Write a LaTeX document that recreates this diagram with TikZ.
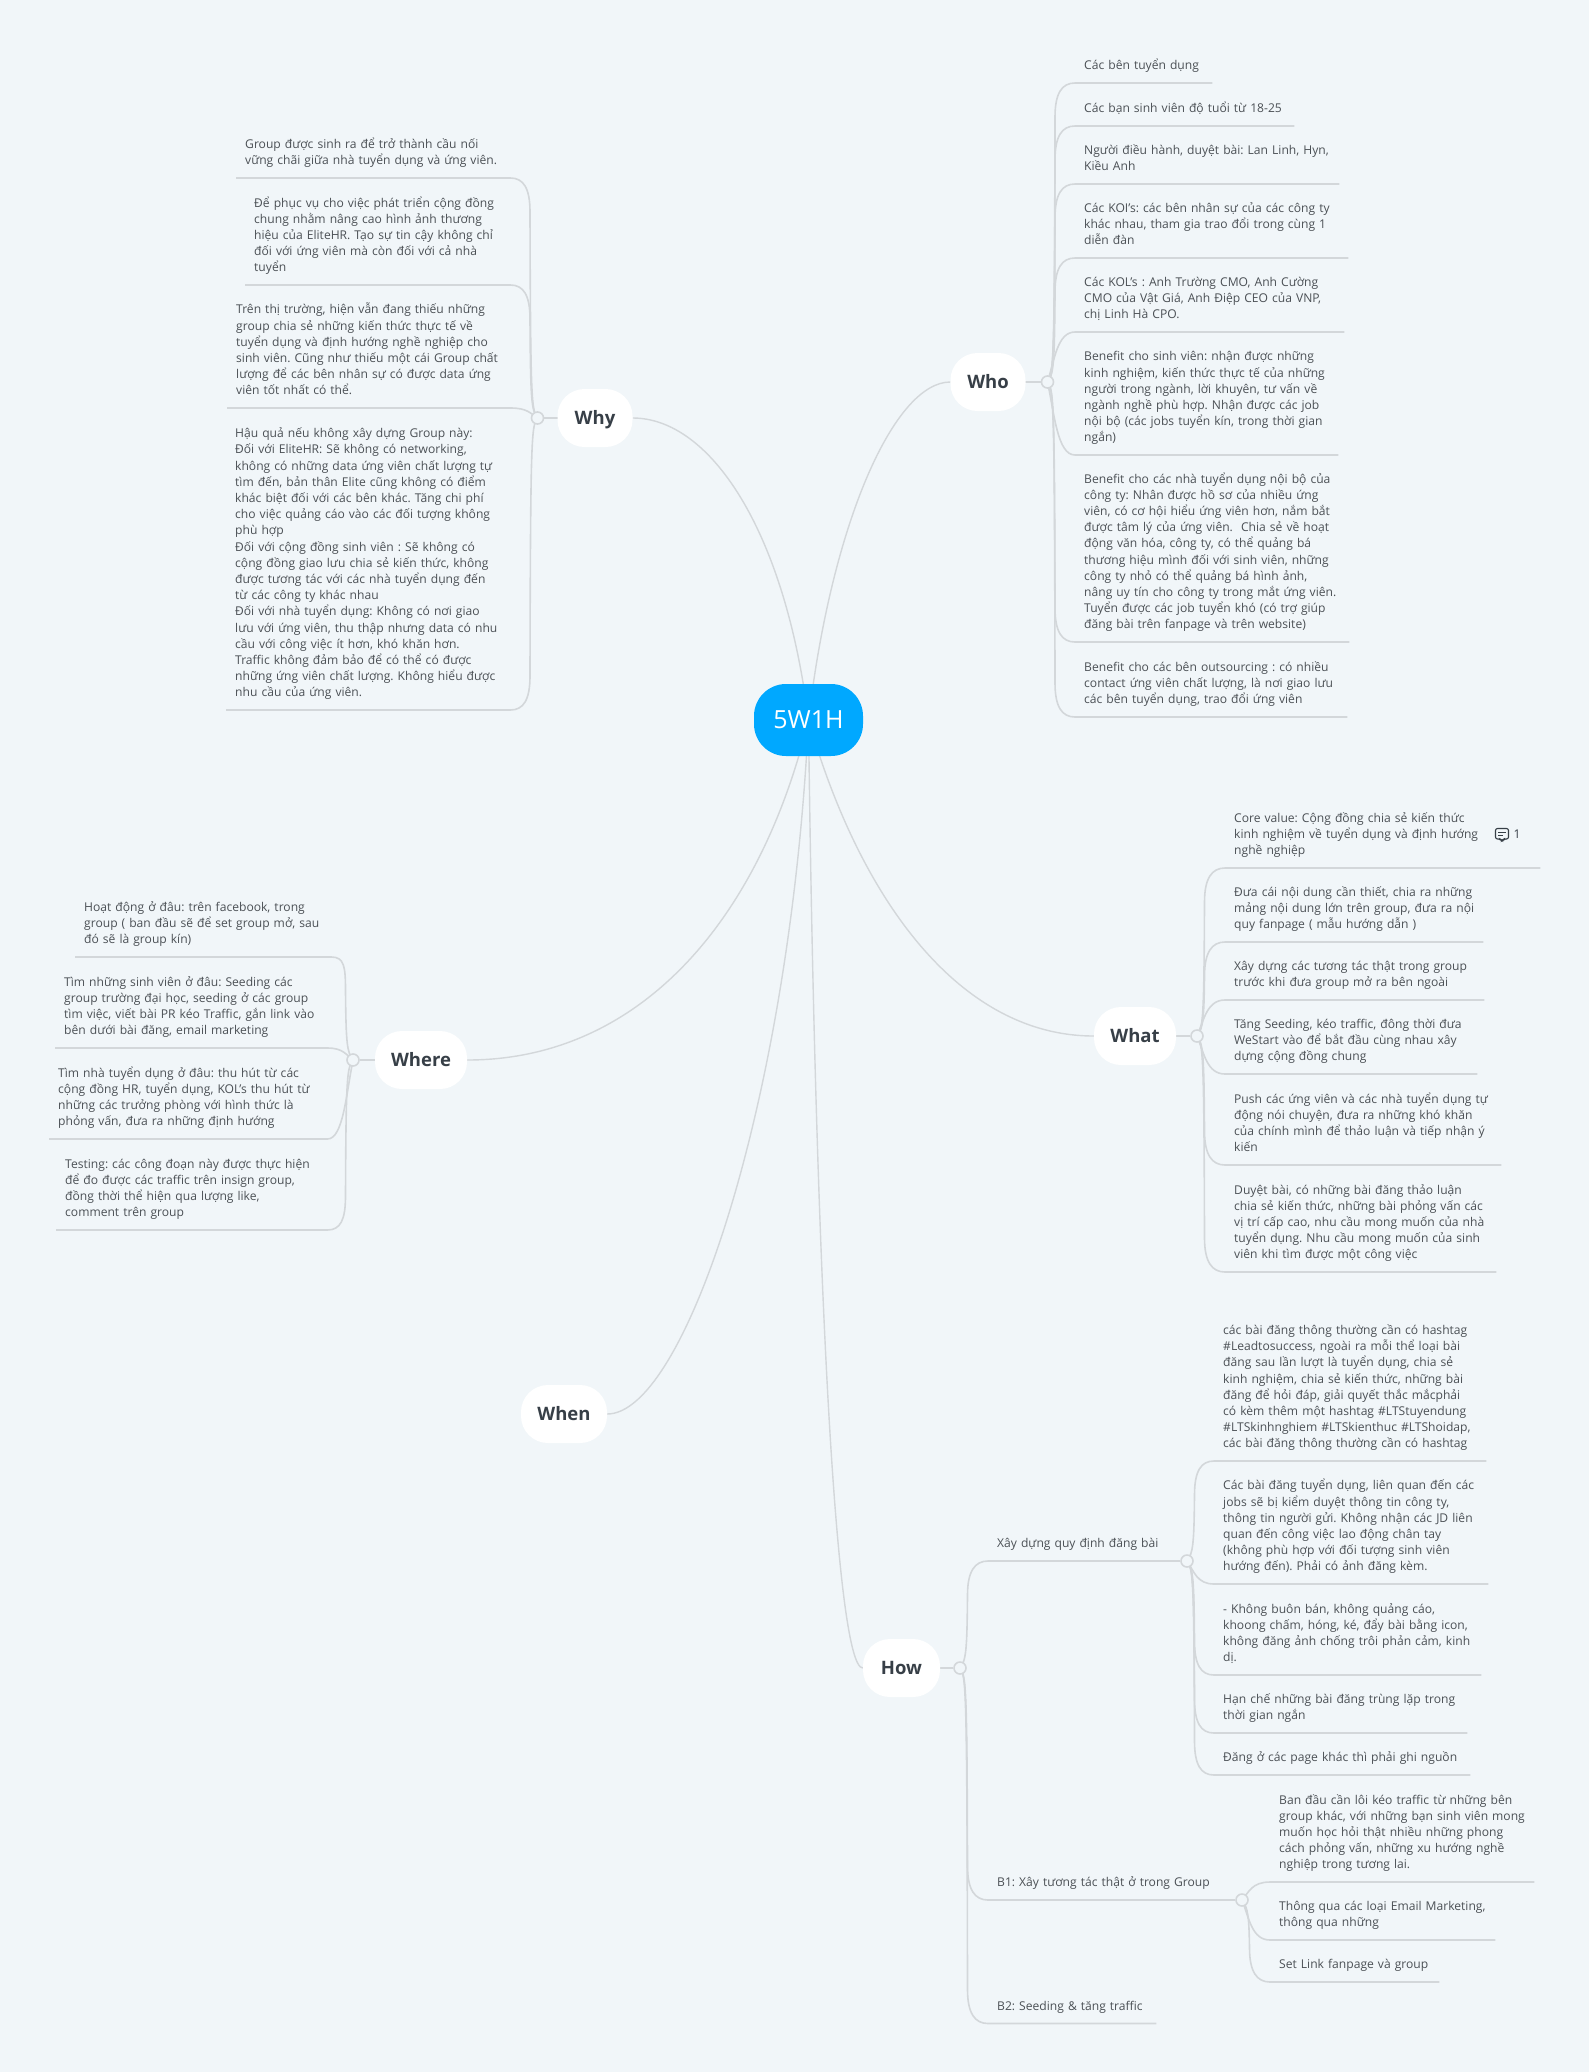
\documentclass[tikz,border=0pt]{standalone}
\usepackage{fontspec}
\setmainfont{Open Sans}
\usetikzlibrary{calc,backgrounds}
\definecolor{pagebg}{HTML}{F1F6F9}
\definecolor{linegrey}{HTML}{D3D7DA}
\definecolor{leaftext}{HTML}{4B5055}
\definecolor{topictext}{HTML}{373F47}
\definecolor{rootblue}{HTML}{00A8FF}
\tikzset{
  branch/.style={draw=linegrey,line width=1.6pt},
  mainbranch/.style={draw=linegrey,line width=1.4pt},
  leaf/.style={anchor=south west,inner xsep=9pt,inner ysep=8pt,text width=#1pt-18pt,execute at end node=\strut,
    align=left,text=leaftext,font=\fontsize{12.1}{16.2}\selectfont\frenchspacing},
  topic/.style={fill=white,rounded corners=27pt,minimum height=58pt,minimum width=#1pt,inner sep=0pt,
    text height=13pt,text depth=0pt,text=topictext,font=\fontsize{18.5}{22}\selectfont\bfseries},
  hub/.style={circle,draw=linegrey,line width=1.6pt,fill=pagebg,minimum size=12pt,inner sep=0pt},
}
% tall branch: runs along the hub, then turns into the leaf
\newcommand{\fartwig}[3]{%
  \ifnum#3>0 \def\nearside{south west}\def\farside{south east}\else\def\nearside{south east}\def\farside{south west}\fi
  \draw[branch] let \p1=(#1.center), \p2=(#2.\nearside), \n1={ifthenelse(\y2>\y1,1,-1)} in
    (\p1) .. controls (\x1+#3*6pt,\y1+\n1*8pt) and (\x1+#3*7pt,\y1+\n1*16pt) .. (\x1+#3*7.5pt,\y2-\n1*34pt)
    .. controls (\x1+#3*7.5pt,\y2-\n1*10pt) and (\x2-#3*13pt,\y2) .. (\p2) -- (#2.\farside);
}
% short branch: a plain S curve
\newcommand{\neartwig}[3]{%
  \ifnum#3>0 \def\nearside{south west}\def\farside{south east}\else\def\nearside{south east}\def\farside{south west}\fi
  \draw[branch] let \p1=(#1.center), \p2=(#2.\nearside) in
    (\p1) .. controls (\x1+#3*7pt,{\y1+0.45*(\y2-\y1)}) and (\x1+#3*10pt,\y2) .. (\p2) -- (#2.\farside);
}
\begin{document}
\begin{tikzpicture}[x=1pt,y=-1pt]
\useasboundingbox (0,0) rectangle (1589,2072);

\node[fill=rootblue,rounded corners=32pt,minimum width=109pt,minimum height=72pt,inner sep=0pt,text=white,
  font=\fontsize{25}{30}\selectfont] (root) at (808.5,720) {5W1H};

% topics
\node[topic=75] (who) at (988,382) {Who};
\node[topic=75] (why) at (595,418) {Why};
\node[topic=92] (where) at (421,1060) {Where};
\node[topic=82] (what) at (1135,1036) {What};
\node[topic=86] (when) at (564,1414) {When};
\node[topic=77] (how) at (901.5,1668) {How};

\node[hub] (whohub) at (1047.5,382) {};
\node[hub] (whyhub) at (537.5,418) {};
\node[hub] (wherehub) at (353,1060) {};
\node[hub] (whathub) at (1197,1036) {};
\node[hub] (howhub) at (960,1668) {};
\node[hub] (rulehub) at (1187,1561) {};
\node[hub] (bonehub) at (1242,1900) {};

% who
\node[leaf=137] (who1) at (1075,83) {Các bên tuyển dụng};
\node[leaf=219] (who2) at (1075,126) {Các bạn sinh viên độ tuổi từ 18-25};
\node[leaf=264] (who3) at (1075,184) {Người điều hành, duyệt bài: Lan Linh, Hyn,\\Kiều Anh};
\node[leaf=273] (who4) at (1075,258) {Các KOI's: các bên nhân sự của các công ty\\khác nhau, tham gia trao đổi trong cùng 1\\diễn đàn};
\node[leaf=269] (who5) at (1075,332) {Các KOL's : Anh Trường CMO, Anh Cường\\CMO của Vật Giá, Anh Điệp CEO của VNP,\\chị Linh Hà CPO.};
\node[leaf=263] (who6) at (1075,455) {Benefit cho sinh viên: nhận được những\\kinh nghiệm, kiến thức thực tế của những\\người trong ngành, lời khuyên, tư vấn về\\ngành nghề phù hợp. Nhận được các job\\nội bộ (các jobs tuyển kín, trong thời gian\\ngắn)};
\node[leaf=274] (who7) at (1075,642) {Benefit cho các nhà tuyển dụng nội bộ của\\công ty: Nhân được hồ sơ của nhiều ứng\\viên, có cơ hội hiểu ứng viên hơn, nắm bắt\\được tâm lý của ứng viên. \ Chia sẻ về hoạt\\động văn hóa, công ty, có thể quảng bá\\thương hiệu mình đối với sinh viên, những\\công ty nhỏ có thể quảng bá hình ảnh,\\nâng uy tín cho công ty trong mắt ứng viên.\\Tuyển được các job tuyển khó (có trợ giúp\\đăng bài trên fanpage và trên website)};
\node[leaf=272] (who8) at (1075,717) {Benefit cho các bên outsourcing : có nhiều\\contact ứng viên chất lượng, là nơi giao lưu\\các bên tuyển dụng, trao đổi ứng viên};

% why
\node[leaf=274] (why1) at (236,178) {Group được sinh ra để trở thành cầu nối\\vững chãi giữa nhà tuyển dụng và ứng viên.};
\node[leaf=265] (why2) at (245,285) {Để phục vụ cho việc phát triển cộng đồng\\chung nhằm nâng cao hình ảnh thương\\hiệu của EliteHR. Tạo sự tin cậy không chỉ\\đối với ứng viên mà còn đối với cả nhà\\tuyển};
\node[leaf=283] (why3) at (227,408) {Trên thị trường, hiện vẫn đang thiếu những\\group chia sẻ những kiến thức thực tế về\\tuyển dụng và định hướng nghề nghiệp cho\\sinh viên. Cũng như thiếu một cái Group chất\\lượng để các bên nhân sự có được data ứng\\viên tốt nhất có thể.};
\node[leaf=284] (why4) at (226,710) {Hậu quả nếu không xây dựng Group này:\\Đối với EliteHR: Sẽ không có networking,\\không có những data ứng viên chất lượng tự\\tìm đến, bản thân Elite cũng không có điểm\\khác biệt đối với các bên khác. Tăng chi phí\\cho việc quảng cáo vào các đối tượng không\\phù hợp\\Đối với cộng đồng sinh viên : Sẽ không có\\cộng đồng giao lưu chia sẻ kiến thức, không\\được tương tác với các nhà tuyển dụng đến\\từ các công ty khác nhau\\Đối với nhà tuyển dụng: Không có nơi giao\\lưu với ứng viên, thu thập nhưng data có nhu\\cầu với công việc ít hơn, khó khăn hơn.\\Traffic không đảm bảo để có thể có được\\những ứng viên chất lượng. Không hiểu được\\nhu cầu của ứng viên.};

% where
\node[leaf=256] (where1) at (75,957) {Hoạt động ở đâu: trên facebook, trong\\group ( ban đầu sẽ để set group mở, sau\\đó sẽ là group kín)};
\node[leaf=272] (where2) at (55,1048) {Tìm những sinh viên ở đâu: Seeding các\\group trường đại học, seeding ở các group\\tìm việc, viết bài PR kéo Traffic, gắn link vào\\bên dưới bài đăng, email marketing};
\node[leaf=278] (where3) at (49,1139) {Tìm nhà tuyển dụng ở đâu: thu hút từ các\\cộng đồng HR, tuyển dụng, KOL's thu hút từ\\những các trưởng phòng với hình thức là\\phỏng vấn, đưa ra những định hướng};
\node[leaf=271] (where4) at (56,1230) {Testing: các công đoạn này được thực hiện\\để đo được các traffic trên insign group,\\đồng thời thể hiện qua lượng like,\\comment trên group};

% what
\node[leaf=315] (what1) at (1225,868) {Core value: Cộng đồng chia sẻ kiến thức\\kinh nghiệm về tuyển dụng và định hướng\\nghề nghiệp};
\node[leaf=258] (what2) at (1225,942) {Đưa cái nội dung cần thiết, chia ra những\\mảng nội dung lớn trên group, đưa ra nội\\quy fanpage ( mẫu hướng dẫn )};
\node[leaf=259] (what3) at (1225,1000) {Xây dựng các tương tác thật trong group\\trước khi đưa group mở ra bên ngoài};
\node[leaf=252] (what4) at (1225,1074) {Tăng Seeding, kéo traffic, đông thời đưa\\WeStart vào để bắt đầu cùng nhau xây\\dựng cộng đồng chung};
\node[leaf=276] (what5) at (1225,1165) {Push các ứng viên và các nhà tuyển dụng tự\\động nói chuyện, đưa ra những khó khăn\\của chính mình để thảo luận và tiếp nhận ý\\kiến};
\node[leaf=271] (what6) at (1225,1272) {Duyệt bài, có những bài đăng thảo luận\\chia sẻ kiến thức, những bài phỏng vấn các\\vị trí cấp cao, nhu cầu mong muốn của nhà\\tuyển dụng. Nhu cầu mong muốn của sinh\\viên khi tìm được một công việc};

\node[text=topictext,inner sep=0pt,font=\fontsize{12.1}{16.2}\selectfont] (whatnote) at (1517,834) {1};
\draw[topictext,line width=1.1pt,rounded corners=2pt] (1495.5,828.5) -- (1508.5,828.5) -- (1508.5,839) -- (1503.5,839) -- (1502,841) -- (1500.5,839) -- (1495.5,839) -- cycle;
\draw[topictext,line width=1pt] (1498,832) -- (1506,832) (1498,835.5) -- (1503,835.5);

% how
\node[leaf=190] (rule) at (988,1561) {Xây dựng quy định đăng bài};
\node[leaf=234] (bone) at (988,1900) {B1: Xây tương tác thật ở trong Group};
\node[leaf=168] (btwo) at (988,2023.5) {B2: Seeding \& tăng traffic};

\node[leaf=272] (rule1) at (1214,1461) {các bài đăng thông thường cần có hashtag\\\#Leadtosuccess, ngoài ra mỗi thể loại bài\\đăng sau lần lượt là tuyển dụng, chia sẻ\\kinh nghiệm, chia sẻ kiến thức, những bài\\đăng để hỏi đáp, giải quyết thắc mắcphải\\có kèm thêm một hashtag \#LTStuyendung\\\#LTSkinhnghiem \#LTSkienthuc \#LTShoidap,\\các bài đăng thông thường cần có hashtag};
\node[leaf=274] (rule2) at (1214,1584) {Các bài đăng tuyển dụng, liên quan đến các\\jobs sẽ bị kiểm duyệt thông tin công ty,\\thông tin người gửi. Không nhận các JD liên\\quan đến công việc lao động chân tay\\(không phù hợp với đối tượng sinh viên\\hướng đến). Phải có ảnh đăng kèm.};
\node[leaf=267] (rule3) at (1214,1675) {- Không buôn bán, không quảng cáo,\\khoong chấm, hóng, ké, đẩy bài bằng icon,\\không đăng ảnh chống trôi phản cảm, kinh\\dị.};
\node[leaf=253] (rule4) at (1214,1733) {Hạn chế những bài đăng trùng lặp trong\\thời gian ngắn};
\node[leaf=256] (rule5) at (1214,1775) {Đăng ở các page khác thì phải ghi nguồn};

\node[leaf=264] (bone1) at (1270,1882) {Ban đầu cần lôi kéo traffic từ những bên\\group khác, với những bạn sinh viên mong\\muốn học hỏi thật nhiều những phong\\cách phỏng vấn, những xu hướng nghề\\nghiệp trong tương lai.};
\node[leaf=225] (bone2) at (1270,1940) {Thông qua các loại Email Marketing,\\thông qua những};
\node[leaf=169] (bone3) at (1270,1982) {Set Link fanpage và group};

\begin{scope}[on background layer]
\fill[pagebg] (0,0) rectangle (1589,2072);

\draw[mainbranch] (root.center) .. controls (832,520) and (895,382) .. (who.west);
\draw[mainbranch] (root.center) .. controls (785,530) and (710,418) .. (why.east);
\draw[mainbranch] (root.center) .. controls (760,920) and (640,1060) .. (where.east);
\draw[mainbranch] (root.center) .. controls (860,900) and (960,1036) .. (what.west);
\draw[mainbranch] (root.center) .. controls (790,1100) and (685,1414) .. (when.east);
\draw[mainbranch] (root.center) .. controls (815,1250) and (835,1668) .. (how.west);

\draw[branch] (who.center) -- (whohub);
\draw[branch] (why.center) -- (whyhub);
\draw[branch] (where.center) -- (wherehub);
\draw[branch] (what.center) -- (whathub);
\draw[branch] (how.center) -- (howhub);
\draw[branch] (rule.south east) -- (rulehub);
\draw[branch] (bone.south east) -- (bonehub);

\foreach \t in {who1,who2,who3,who4,who7,who8} {\fartwig{whohub}{\t}{1}}
\foreach \t in {who5,who6} {\neartwig{whohub}{\t}{1}}
\foreach \t in {why1,why2,why4} {\fartwig{whyhub}{\t}{-1}}
\neartwig{whyhub}{why3}{-1}
\foreach \t in {where1,where4} {\fartwig{wherehub}{\t}{-1}}
\foreach \t in {where2,where3} {\neartwig{wherehub}{\t}{-1}}
\foreach \t in {what1,what2,what5,what6} {\fartwig{whathub}{\t}{1}}
\foreach \t in {what3,what4} {\neartwig{whathub}{\t}{1}}
\foreach \t in {rule,bone,btwo} {\fartwig{howhub}{\t}{1}}
\foreach \t in {rule1,rule3,rule4,rule5} {\fartwig{rulehub}{\t}{1}}
\neartwig{rulehub}{rule2}{1}
\foreach \t in {bone1,bone2} {\neartwig{bonehub}{\t}{1}}
\fartwig{bonehub}{bone3}{1}
\end{scope}
\end{tikzpicture}
\end{document}
